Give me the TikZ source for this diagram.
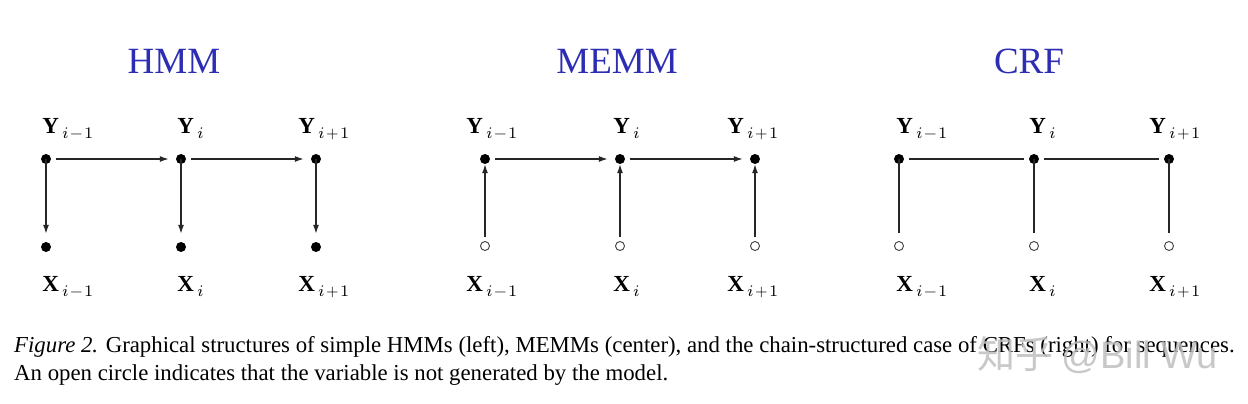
\documentclass[tikz,border=0pt]{standalone}
\usepackage{fontspec}
\setmainfont{Liberation Serif}
\newfontfamily\cjkwm{Noto Sans CJK SC}
\newfontfamily\sanswm{Liberation Sans}
\usepackage{unicode-math}
\setmathfont{Latin Modern Math}
\usetikzlibrary{arrows.meta}
\definecolor{titleblue}{RGB}{45,45,180}
\newcommand{\vlab}[2]{$\mathbf{#1}_{\hspace{1.5pt}#2}$}
\newcommand{\smn}{\mskip1.5mu{-}\mskip1.5mu}
\newcommand{\spl}{\mskip1.5mu{+}\mskip1.5mu}
\begin{document}
\begin{tikzpicture}[x=1pt,y=-1pt,
  full/.style={circle,fill=black,inner sep=0pt,minimum size=10pt},
  open/.style={circle,draw=black!75,line width=0.9pt,fill=white,inner sep=0pt,minimum size=9pt},
  lab/.style={anchor=base west,inner sep=0pt,scale=2.3},
  title/.style={font=\fontsize{37}{40}\selectfont,text=titleblue,anchor=base,inner sep=0pt},
  edge/.style={line width=1.3pt,black!85},
  arr/.style={edge,-{Latex[length=9pt,width=6pt]}},
  caption/.style={anchor=base west,inner sep=0pt,font=\fontsize{22.8}{26}\selectfont}
]
\useasboundingbox (0,0) rectangle (1248,404);
\fill[white] (0,0) rectangle (1248,404);

% titles
\node[title] (thmm) at (174,74) {HMM};
\node[title] (tmemm) at (617,74) {MEMM};
\node[title] (tcrf) at (1029,74) {CRF};

% ---------- HMM ----------
\node[full] (hy1) at (46,159) {};
\node[full] (hy2) at (181,159) {};
\node[full] (hy3) at (316,159) {};
\node[full] (hx1) at (46,247) {};
\node[full] (hx2) at (181,247) {};
\node[full] (hx3) at (316,247) {};
\node[lab] (lhy1) at (42,133) {\vlab{Y}{i\smn1}};
\node[lab] (lhy2) at (177,133) {\vlab{Y}{i}};
\node[lab] (lhy3) at (298,133) {\vlab{Y}{i\spl1}};
\node[lab] (lhx1) at (42,291) {\vlab{X}{i\smn1}};
\node[lab] (lhx2) at (177,291) {\vlab{X}{i}};
\node[lab] (lhx3) at (298,291) {\vlab{X}{i\spl1}};
\draw[arr,shorten <=5pt,shorten >=7pt] (hy1) -- (hy2);
\draw[arr,shorten <=5pt,shorten >=7pt] (hy2) -- (hy3);
\draw[arr,shorten >=8pt] (hy1.center) -- (hx1);
\draw[arr,shorten >=8pt] (hy2.center) -- (hx2);
\draw[arr,shorten >=8pt] (hy3.center) -- (hx3);

% ---------- MEMM ----------
\node[full] (my1) at (485,159) {};
\node[full] (my2) at (620,159) {};
\node[full] (my3) at (755,159) {};
\node[open] (mx1) at (485,246) {};
\node[open] (mx2) at (620,246) {};
\node[open] (mx3) at (755,246) {};
\node[lab] (lmy1) at (466,133) {\vlab{Y}{i\smn1}};
\node[lab] (lmy2) at (613,133) {\vlab{Y}{i}};
\node[lab] (lmy3) at (727,133) {\vlab{Y}{i\spl1}};
\node[lab] (lmx1) at (466,291) {\vlab{X}{i\smn1}};
\node[lab] (lmx2) at (613,291) {\vlab{X}{i}};
\node[lab] (lmx3) at (727,291) {\vlab{X}{i\spl1}};
\draw[arr,shorten <=5pt,shorten >=7pt] (my1) -- (my2);
\draw[arr,shorten <=5pt,shorten >=7pt] (my2) -- (my3);
\draw[arr,shorten <=4pt] (mx1) -- (my1);
\draw[arr,shorten <=4pt] (mx2) -- (my2);
\draw[arr,shorten <=4pt] (mx3) -- (my3);

% ---------- CRF ----------
\node[full] (cy1) at (899,159) {};
\node[full] (cy2) at (1034,159) {};
\node[full] (cy3) at (1169,159) {};
\node[open] (cx1) at (899,246) {};
\node[open] (cx2) at (1034,246) {};
\node[open] (cx3) at (1169,246) {};
\node[lab] (lcy1) at (896,133) {\vlab{Y}{i\smn1}};
\node[lab] (lcy2) at (1029,133) {\vlab{Y}{i}};
\node[lab] (lcy3) at (1149,133) {\vlab{Y}{i\spl1}};
\node[lab] (lcx1) at (896,291) {\vlab{X}{i\smn1}};
\node[lab] (lcx2) at (1029,291) {\vlab{X}{i}};
\node[lab] (lcx3) at (1149,291) {\vlab{X}{i\spl1}};
\draw[edge,shorten <=5pt,shorten >=5pt] (cy1) -- (cy2);
\draw[edge,shorten <=5pt,shorten >=5pt] (cy2) -- (cy3);
\draw[edge,shorten >=8pt] (cy1.center) -- (cx1);
\draw[edge,shorten >=8pt] (cy2.center) -- (cx2);
\draw[edge,shorten >=8pt] (cy3.center) -- (cx3);

% ---------- caption ----------
\node[caption] (cap1) at (14,352) {\textit{Figure 2.} Graphical structures of simple HMMs (left), MEMMs (center), and the chain-structured case of CRFs (right) for sequences.};
\node[caption] (cap2) at (14,380) {An open circle indicates that the variable is not generated by the model.};

% watermark
\node[anchor=base west,inner sep=0pt,text=black!25,opacity=0.85,font=\fontsize{38}{42}\cjkwm] (wm) at (977,368) {知乎 {\sanswm @Bill Wu}};
\end{tikzpicture}
\end{document}
